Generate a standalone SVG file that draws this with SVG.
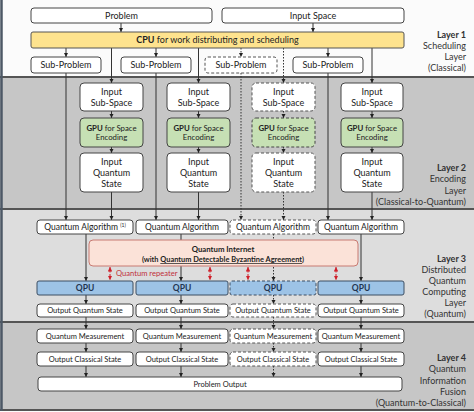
<svg xmlns="http://www.w3.org/2000/svg" width="474" height="412" viewBox="0 0 474 412">
<defs>
<marker id="ah" viewBox="0 0 6 6" refX="6" refY="3" markerWidth="4.5" markerHeight="4.5" orient="auto" markerUnits="userSpaceOnUse"><path d="M0,0 L6,3 L0,6 z" fill="#222"/></marker>
<marker id="rh" viewBox="0 0 6 6" refX="6" refY="3" markerWidth="4.5" markerHeight="4.5" orient="auto-start-reverse" markerUnits="userSpaceOnUse"><path d="M0,0 L6,3 L0,6 z" fill="#d0202a"/></marker>
<style>
text{font-family:Lato,"Liberation Sans",sans-serif;fill:#222;}
.box{fill:#fff;stroke:#444;stroke-width:1;}
.dash{stroke-dasharray:3,2;stroke:#555;}
.cpu{fill:#fee38e;stroke:#555;stroke-width:1;}
.gpu{fill:#c6e0b4;stroke:#444;stroke-width:1;}
.qpu{fill:#9dc3e6;stroke:#3d4e63;stroke-width:1;}
.qi{fill:#fbe2d8;stroke:#c87a72;stroke-width:1;}
.c{stroke:#333;stroke-width:1;fill:none;marker-end:url(#ah);}
.d{stroke-dasharray:1.5,1.5;}
.r{stroke:#d0202a;stroke-width:1;stroke-dasharray:2,1.5;marker-start:url(#rh);marker-end:url(#rh);}
.t9{font-size:9px;text-anchor:middle;}
.t8{font-size:8.5px;text-anchor:middle;}
.t7{font-size:7.5px;text-anchor:middle;}
.gt{font-size:7.8px;text-anchor:middle;}
.lab{font-size:9px;text-anchor:end;fill:#333;}
.b{font-weight:bold;}
</style>
</defs>

<g id="background">
<rect x="0" y="0" width="474" height="77" fill="#fbfbfb"/>
<rect x="0" y="77" width="474" height="132" fill="#c6c6c6"/>
<rect x="0" y="209" width="474" height="113" fill="#dddddd"/>
<rect x="0" y="322" width="474" height="88" fill="#c6c6c6"/>
<rect x="0" y="410" width="474" height="2" fill="#fbfbfb"/>
<line x1="0" y1="77" x2="474" y2="77" stroke="#555" stroke-width="2"/>
<line x1="0" y1="209" x2="474" y2="209" stroke="#555" stroke-width="2"/>
<line x1="0" y1="322" x2="474" y2="322" stroke="#555" stroke-width="2"/>
<line x1="0" y1="410" x2="474" y2="410" stroke="#555" stroke-width="2"/>
<line x1="1.5" y1="0" x2="1.5" y2="411" stroke="#4d5866" stroke-width="2.5"/>
</g>

<g id="connectors">
<line class="c" x1="121" y1="23" x2="121" y2="32"/>
<line class="c" x1="313" y1="23" x2="313" y2="32"/>
<line class="c" x1="66" y1="48" x2="66" y2="57"/>
<line class="c" x1="156" y1="48" x2="156" y2="57"/>
<line class="c d" x1="241" y1="48" x2="241" y2="57"/>
<line class="c" x1="328" y1="48" x2="328" y2="57"/>
<line class="c" x1="111.5" y1="48" x2="111.5" y2="83"/>
<line class="c" x1="198.5" y1="48" x2="198.5" y2="83"/>
<line class="c d" x1="283.5" y1="48" x2="283.5" y2="83"/>
<line class="c" x1="372" y1="48" x2="372" y2="83"/>
<line class="c" x1="66" y1="73" x2="66" y2="220"/>
<line class="c" x1="156" y1="73" x2="156" y2="220"/>
<line class="c d" x1="241" y1="73" x2="241" y2="220"/>
<line class="c" x1="328" y1="73" x2="328" y2="220"/>
<line class="c" x1="111.5" y1="111" x2="111.5" y2="118"/>
<line class="c" x1="198.5" y1="111" x2="198.5" y2="118"/>
<line class="c d" x1="283.5" y1="111" x2="283.5" y2="118"/>
<line class="c" x1="372" y1="111" x2="372" y2="118"/>
<line class="c" x1="111.5" y1="147" x2="111.5" y2="153"/>
<line class="c" x1="198.5" y1="147" x2="198.5" y2="153"/>
<line class="c d" x1="283.5" y1="147" x2="283.5" y2="153"/>
<line class="c" x1="372" y1="147" x2="372" y2="153"/>
<line class="c" x1="111.5" y1="192" x2="111.5" y2="220"/>
<line class="c" x1="198.5" y1="192" x2="198.5" y2="220"/>
<line class="c d" x1="283.5" y1="192" x2="283.5" y2="220"/>
<line class="c" x1="372" y1="192" x2="372" y2="220"/>
<line class="c" x1="86" y1="234" x2="86" y2="281"/>
<line class="c" x1="181" y1="234" x2="181" y2="281"/>
<line class="c d" x1="273.5" y1="234" x2="273.5" y2="281"/>
<line class="c" x1="361" y1="234" x2="361" y2="281" stroke-width="1.4"/>
<line class="c" x1="86" y1="295" x2="86" y2="304"/>
<line class="c" x1="181" y1="295" x2="181" y2="304"/>
<line class="c d" x1="273.5" y1="295" x2="273.5" y2="304"/>
<line class="c" x1="361" y1="295" x2="361" y2="304"/>
<line class="c" x1="86" y1="317" x2="86" y2="329"/>
<line class="c" x1="181" y1="317" x2="181" y2="329"/>
<line class="c d" x1="273.5" y1="317" x2="273.5" y2="329"/>
<line class="c" x1="361" y1="317" x2="361" y2="329"/>
<line class="c" x1="86" y1="343" x2="86" y2="352"/>
<line class="c" x1="181" y1="343" x2="181" y2="352"/>
<line class="c d" x1="273.5" y1="343" x2="273.5" y2="352"/>
<line class="c" x1="361" y1="343" x2="361" y2="352"/>
<line class="c" x1="86" y1="366" x2="86" y2="377"/>
<line class="c" x1="181" y1="366" x2="181" y2="377"/>
<line class="c d" x1="273.5" y1="366" x2="273.5" y2="377"/>
<line class="c" x1="361" y1="366" x2="361" y2="377"/>
</g>

<g id="problem"><rect class="box" x="31" y="8" width="181" height="15" rx="3"/><text class="t9" x="121.5" y="18.8">Problem</text></g>
<g id="input-space"><rect class="box" x="222" y="8" width="182" height="15" rx="3"/><text class="t9" x="313" y="18.8">Input Space</text></g>
<g id="cpu"><rect class="cpu" x="31" y="32" width="373" height="16" rx="2"/><text class="t9" x="217.5" y="43.2"><tspan class="b">CPU</tspan> for work distributing and scheduling</text></g>

<g id="sub-problem-1"><rect class="box" x="31" y="57" width="70" height="16" rx="3"/><text class="t9" x="66" y="68">Sub-Problem</text></g>
<g id="sub-problem-2"><rect class="box" x="121" y="57" width="70" height="16" rx="3"/><text class="t9" x="156" y="68">Sub-Problem</text></g>
<g id="sub-problem-3"><rect class="box dash" x="205" y="57" width="72" height="16" rx="3"/><text class="t9" x="241" y="68">Sub-Problem</text></g>
<g id="sub-problem-4"><rect class="box" x="293" y="57" width="70" height="16" rx="3"/><text class="t9" x="328" y="68">Sub-Problem</text></g>

<g id="input-subspace-1"><rect class="box" x="80" y="83" width="63" height="28" rx="4"/><text class="t9" x="111.5" y="95">Input</text><text class="t9" x="111.5" y="106">Sub-Space</text></g>
<g id="input-subspace-2"><rect class="box" x="167" y="83" width="63" height="28" rx="4"/><text class="t9" x="198.5" y="95">Input</text><text class="t9" x="198.5" y="106">Sub-Space</text></g>
<g id="input-subspace-3"><rect class="box dash" x="252" y="83" width="63" height="28" rx="4"/><text class="t9" x="283.5" y="95">Input</text><text class="t9" x="283.5" y="106">Sub-Space</text></g>
<g id="input-subspace-4"><rect class="box" x="341" y="83" width="62" height="28" rx="4"/><text class="t9" x="372" y="95">Input</text><text class="t9" x="372" y="106">Sub-Space</text></g>

<g id="gpu-1"><rect class="gpu" x="80" y="118" width="63" height="29" rx="4"/><text class="gt" x="111.5" y="130.5"><tspan class="b">GPU</tspan> for Space</text><text class="gt" x="111.5" y="140">Encoding</text></g>
<g id="gpu-2"><rect class="gpu" x="167" y="118" width="63" height="29" rx="4"/><text class="gt" x="198.5" y="130.5"><tspan class="b">GPU</tspan> for Space</text><text class="gt" x="198.5" y="140">Encoding</text></g>
<g id="gpu-3"><rect class="gpu dash" x="252" y="118" width="63" height="29" rx="4"/><text class="gt" x="283.5" y="130.5"><tspan class="b">GPU</tspan> for Space</text><text class="gt" x="283.5" y="140">Encoding</text></g>
<g id="gpu-4"><rect class="gpu" x="341" y="118" width="62" height="29" rx="4"/><text class="gt" x="372" y="130.5"><tspan class="b">GPU</tspan> for Space</text><text class="gt" x="372" y="140">Encoding</text></g>

<g id="input-qstate-1"><rect class="box" x="80" y="153" width="63" height="39" rx="4"/><text class="t9" x="111.5" y="165">Input</text><text class="t9" x="111.5" y="176">Quantum</text><text class="t9" x="111.5" y="187">State</text></g>
<g id="input-qstate-2"><rect class="box" x="167" y="153" width="63" height="39" rx="4"/><text class="t9" x="198.5" y="165">Input</text><text class="t9" x="198.5" y="176">Quantum</text><text class="t9" x="198.5" y="187">State</text></g>
<g id="input-qstate-3"><rect class="box dash" x="252" y="153" width="63" height="39" rx="4"/><text class="t9" x="283.5" y="165">Input</text><text class="t9" x="283.5" y="176">Quantum</text><text class="t9" x="283.5" y="187">State</text></g>
<g id="input-qstate-4"><rect class="box" x="341" y="153" width="62" height="39" rx="4"/><text class="t9" x="372" y="165">Input</text><text class="t9" x="372" y="176">Quantum</text><text class="t9" x="372" y="187">State</text></g>

<g id="qalg-1"><rect class="box" x="37" y="220" width="96" height="14" rx="3"/><text class="t8" x="85" y="230">Quantum Algorithm <tspan font-size="5" dy="-3">(1)</tspan></text></g>
<g id="qalg-2"><rect class="box" x="136" y="220" width="92" height="14" rx="3"/><text class="t8" x="182" y="230">Quantum Algorithm</text></g>
<g id="qalg-3"><rect class="box dash" x="230" y="220" width="86" height="14" rx="3"/><text class="t8" x="273" y="230">Quantum Algorithm</text></g>
<g id="qalg-4"><rect class="box" x="318" y="220" width="86" height="14" rx="3"/><text class="t8" x="361" y="230">Quantum Algorithm</text></g>

<g id="quantum-internet"><rect class="qi" x="89" y="240" width="269" height="26" rx="4"/><text class="b" x="223" y="251.5" font-size="7.8" text-anchor="middle">Quantum Internet</text><text class="b" x="223" y="262" font-size="7.4" text-anchor="middle">(with <tspan text-decoration="underline">Quantum Detectable Byzantine Agreement</tspan>)</text></g>

<g id="quantum-repeater">
<line class="r" x1="110" y1="267" x2="110" y2="280"/>
<line class="r" x1="210" y1="267" x2="210" y2="280"/>
<line class="r" x1="248" y1="267" x2="248" y2="280"/>
<line class="r" x1="336" y1="267" x2="336" y2="280"/>
<text x="116" y="276" font-size="7.6" style="fill:#c0303a">Quantum repeater</text>
</g>

<g id="qpu-1"><rect class="qpu" x="37" y="281" width="96" height="14" rx="2"/><text class="t8 b" x="85" y="291" style="fill:#1f3550">QPU</text></g>
<g id="qpu-2"><rect class="qpu" x="136" y="281" width="92" height="14" rx="2"/><text class="t8 b" x="182" y="291" style="fill:#1f3550">QPU</text></g>
<g id="qpu-3"><rect class="qpu dash" x="230" y="281" width="86" height="14" rx="2"/><text class="t8 b" x="273" y="291" style="fill:#1f3550">QPU</text></g>
<g id="qpu-4"><rect class="qpu" x="318" y="281" width="86" height="14" rx="2"/><text class="t8 b" x="361" y="291" style="fill:#1f3550">QPU</text></g>

<g id="oqs-1"><rect class="box" x="37" y="304" width="96" height="13" rx="3"/><text class="t7" x="85" y="313">Output Quantum State</text></g>
<g id="oqs-2"><rect class="box" x="136" y="304" width="92" height="13" rx="3"/><text class="t7" x="182" y="313">Output Quantum State</text></g>
<g id="oqs-3"><rect class="box dash" x="230" y="304" width="86" height="13" rx="3"/><text class="t7" x="273" y="313">Output Quantum State</text></g>
<g id="oqs-4"><rect class="box" x="318" y="304" width="86" height="13" rx="3"/><text class="t7" x="361" y="313">Output Quantum State</text></g>

<g id="qm-1"><rect class="box" x="37" y="329" width="96" height="14" rx="3"/><text class="t7" x="85" y="338.5">Quantum Measurement</text></g>
<g id="qm-2"><rect class="box" x="136" y="329" width="92" height="14" rx="3"/><text class="t7" x="182" y="338.5">Quantum Measurement</text></g>
<g id="qm-3"><rect class="box dash" x="230" y="329" width="86" height="14" rx="3"/><text class="t7" x="273" y="338.5">Quantum Measurement</text></g>
<g id="qm-4"><rect class="box" x="318" y="329" width="86" height="14" rx="3"/><text class="t7" x="361" y="338.5">Quantum Measurement</text></g>

<g id="ocs-1"><rect class="box" x="37" y="352" width="96" height="14" rx="3"/><text class="t7" x="85" y="361.5">Output Classical State</text></g>
<g id="ocs-2"><rect class="box" x="136" y="352" width="92" height="14" rx="3"/><text class="t7" x="182" y="361.5">Output Classical State</text></g>
<g id="ocs-3"><rect class="box dash" x="230" y="352" width="86" height="14" rx="3"/><text class="t7" x="273" y="361.5">Output Classical State</text></g>
<g id="ocs-4"><rect class="box" x="318" y="352" width="86" height="14" rx="3"/><text class="t7" x="361" y="361.5">Output Classical State</text></g>

<g id="problem-output"><rect class="box" x="38" y="377" width="364" height="14" rx="3"/><text class="t7" x="220" y="386.5">Problem Output</text></g>

<g id="layer-labels">
<text class="lab b" x="466" y="38">Layer 1</text>
<text class="lab" x="466" y="49">Scheduling</text>
<text class="lab" x="466" y="60">Layer</text>
<text class="lab" x="466" y="71">(Classical)</text>
<text class="lab b" x="466" y="171">Layer 2</text>
<text class="lab" x="466" y="182">Encoding</text>
<text class="lab" x="466" y="194">Layer</text>
<text class="lab" x="466" y="205">(Classical-to-Quantum)</text>
<text class="lab b" x="466" y="261.5">Layer 3</text>
<text class="lab" x="466" y="272.5">Distributed</text>
<text class="lab" x="466" y="283.5">Quantum</text>
<text class="lab" x="466" y="294.5">Computing</text>
<text class="lab" x="466" y="305.5">Layer</text>
<text class="lab" x="466" y="316.5">(Quantum)</text>
<text class="lab b" x="466" y="361">Layer 4</text>
<text class="lab" x="466" y="372">Quantum</text>
<text class="lab" x="466" y="384">Information</text>
<text class="lab" x="466" y="395">Fusion</text>
<text class="lab" x="466" y="406">(Quantum-to-Classical)</text>
</g>
</svg>
